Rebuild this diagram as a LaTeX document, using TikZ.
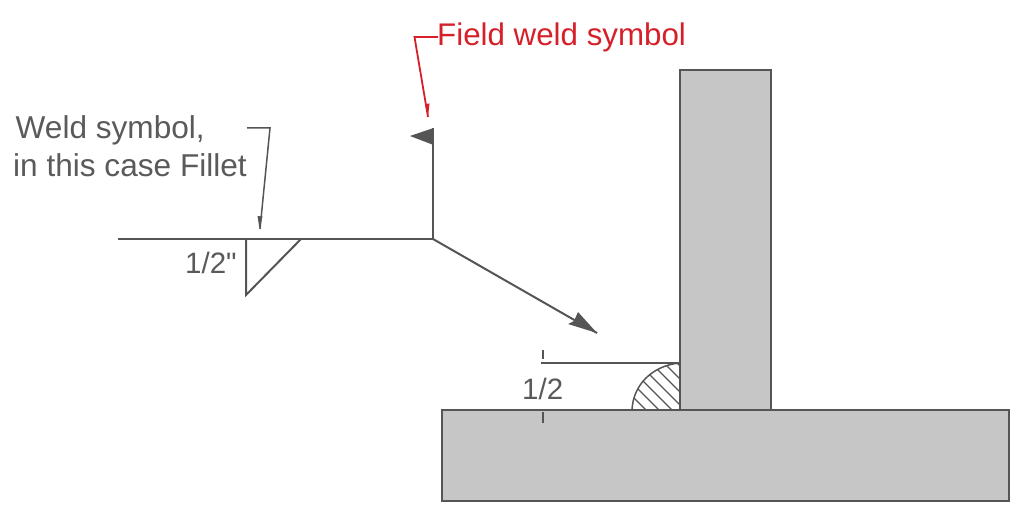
\documentclass[tikz,border=0pt]{standalone}
\usepackage{fontspec}
\setmainfont{Liberation Sans}
\newfontfamily\plainsans{Liberation Sans}
\usetikzlibrary{arrows.meta}
\definecolor{ink}{HTML}{555555}
\definecolor{txt}{HTML}{5A5A5A}
\definecolor{steel}{HTML}{C6C6C6}
\definecolor{redink}{HTML}{D5202A}
\tikzset{
  plate/.style={draw=ink,fill=steel,line width=2pt,outer sep=0pt},
  wline/.style={draw=ink,line width=2pt},
  thinl/.style={draw=ink,line width=1.5pt},
  lab/.style={text=txt,inner sep=0pt,anchor=base west,font=\fontsize{31.6}{36}\selectfont},
}
\begin{document}
\begin{tikzpicture}[x=1pt,y=-1pt]
\useasboundingbox (0,0) rectangle (1024,526);
% plates
\node[plate,minimum width=91pt,minimum height=340pt,inner sep=0pt,anchor=north west] (web) at (679.5,70.5) {};
\node[plate,minimum width=567pt,minimum height=91pt,inner sep=0pt,anchor=north west] (base) at (441.5,410) {};
% weld
\begin{scope}
\clip (679,363) .. controls (652,366) and (633,385) .. (632,410) -- (679,410) -- cycle;
\foreach \d in {-60,-47,...,60}
  \draw[ink,line width=1.3pt] (655+\d-40,385-40) -- (655+\d+40,385+40);
\end{scope}
\draw[wline,line width=1.5pt] (679,363) .. controls (652,366) and (633,385) .. (632,410);
% dimension
\coordinate (dimA) at (541,362.5);
\coordinate (dimB) at (679,362.5);
\draw[wline] (dimA) -- (dimB);
\coordinate (tickA) at (543,350);
\coordinate (tickB) at (543,359);
\coordinate (tickC) at (543,412);
\coordinate (tickD) at (543,423);
\draw[thinl] (tickA) -- (tickB);
\draw[thinl] (tickC) -- (tickD);
\node[lab,font=\fontsize{29.5}{36}\selectfont] (half) at (522,399) {1/2};
% reference line
\coordinate (refL) at (118,239);
\coordinate (refK) at (433,239);
\coordinate (tip) at (597,333);
\draw[wline] (refL) -- (refK);
\draw[wline] (refK) -- (tip);
\fill[ink] (597,333) -- (568,324) -- (574,321) -- (578,312) -- cycle;
% flag
\coordinate (flagB) at (433,128);
\draw[wline] (refK) -- (flagB);
\fill[ink] (433.5,128) -- (410,136) -- (433.5,145) -- cycle;
% fillet
\coordinate (fa) at (246,239);
\coordinate (fb) at (246,295);
\coordinate (fc) at (301,239);
\draw[wline,line join=miter] (fa) -- (fb) -- (fc);
\node[lab,font=\fontsize{29.5}{36}\plainsans\selectfont] (dimtext) at (185,274) {1/2"};
% texts
\node[lab] (w1) at (15.5,139) {Weld symbol,};
\node[lab] (w2) at (13,177) {in this case Fillet};
\node[lab,text=redink,font=\fontsize{31.3}{36}\selectfont] (field) at (437,46) {Field weld symbol};
% leaders
\coordinate (l1) at (247,128);
\coordinate (l2) at (270,128);
\coordinate (l3) at (260,229);
\draw[thinl] (l1) -- (l2) -- (l3);
\fill[ink] (259.5,229) -- (257.5,216) -- (262.5,216.5) -- cycle;
\coordinate (r1) at (438,37);
\coordinate (r2) at (414.5,37);
\coordinate (r3) at (428,117);
\draw[redink,line width=1.8pt] (r1) -- (r2) -- (r3);
\fill[redink] (428,117) -- (425,104) -- (429.5,103.5) -- cycle;
\end{tikzpicture}
\end{document}
